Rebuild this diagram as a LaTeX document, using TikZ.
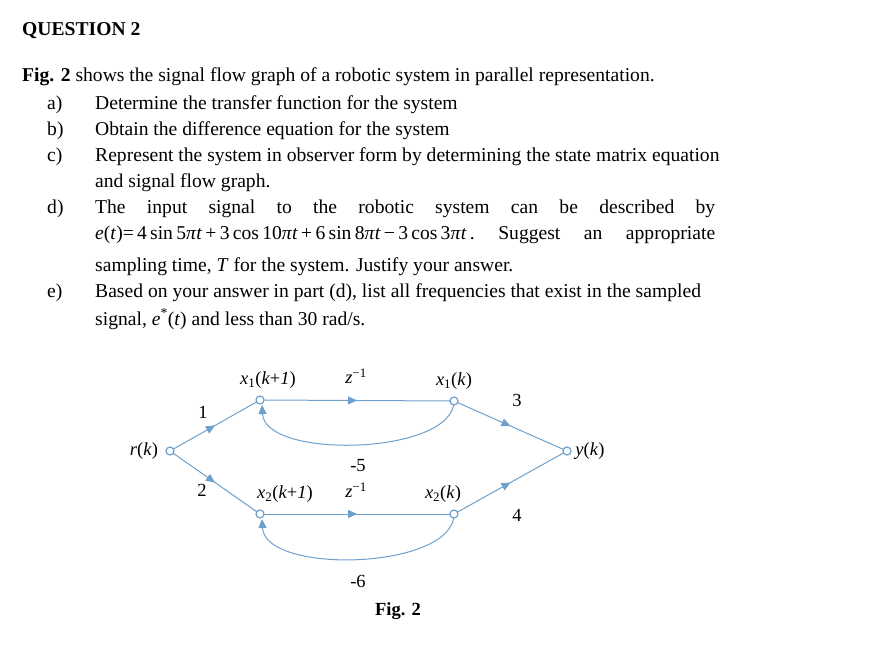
\documentclass[tikz,border=0pt]{standalone}
\usepackage{fontspec}
\setmainfont{Liberation Serif}
\usetikzlibrary{decorations.markings,arrows.meta}
\definecolor{edge}{RGB}{110,160,205}
\newcommand{\ii}[1]{\textit{#1}}
\newcommand{\pii}{\textit{π}}
\begin{document}
\begin{tikzpicture}[x=1pt,y=-1pt,
  txt/.style={anchor=base west,inner sep=0,font=\fontsize{19.6}{22}\selectfont},
  lbl/.style={inner sep=0,font=\fontsize{18.5}{20}\selectfont},
  sn/.style={circle,draw=edge,line width=1.2pt,minimum size=8pt,inner sep=0,fill=white},
  br/.style={draw=edge,line width=1pt,postaction={decorate},
    decoration={markings,mark=at position #1 with {\arrow{Triangle[length=9pt,width=8pt]}}}},
  br/.default=0.5]
\useasboundingbox (0,0) rectangle (884,650);
\node[txt,font=\fontsize{19.6}{22}\selectfont\bfseries] (q) at (22,36) {QUESTION 2};
\node[txt] (l0) at (22,82) {\textbf{Fig. 2} shows the signal flow graph of a robotic system in parallel representation.};
\node[txt] (ma) at (47,110) {a)};
\node[txt] (ta) at (95,110) {Determine the transfer function for the system};
\node[txt] (mb) at (47,136) {b)};
\node[txt] (tb) at (95,136) {Obtain the difference equation for the system};
\node[txt] (mc) at (47,162) {c)};
\node[txt] (tc) at (95,162) {Represent the system in observer form by determining the state matrix equation};
\node[txt] (tc2) at (95,188) {and signal flow graph.};
\node[txt] (md) at (47,214) {d)};
\node[txt] (td) at (95,214) {\makebox[620pt][s]{The input signal to the robotic system can be described by}};
\node[txt] (td2) at (95,240) {\makebox[620pt][s]{\mbox{\ii{e}(\ii{t})=\,4\,sin\,5\pii\ii{t}\,+\,3\,cos\,10\pii\ii{t}\,+\,6\,sin\,8\pii\ii{t}\,−\,3\,cos\,3\pii\ii{t}\,.} Suggest an appropriate}};
\node[txt] (td3) at (95,271) {sampling time, \ii{T} for the system. Justify your answer.};
\node[txt] (me) at (47,297) {e)};
\node[txt] (te) at (95,297) {Based on your answer in part (d), list all frequencies that exist in the sampled};
\node[txt] (te2) at (95,325) {signal, \ii{e}\textsuperscript{*}(\ii{t}) and less than 30 rad/s.};

\coordinate (r) at (170,451);
\coordinate (a) at (260,400);
\coordinate (b) at (454,401);
\coordinate (y) at (567,451);
\coordinate (c) at (260,514);
\coordinate (d) at (454,514);
\draw[br=0.5] (r) -- (a);
\draw[br=0.5] (r) -- (c);
\draw[br=0.5] (a) -- (b);
\draw[br=0.5] (c) -- (d);
\draw[br=0.5] (b) -- (y);
\draw[br=0.5] (d) -- (y);
\draw[draw=edge,line width=1pt,-{Triangle[length=9pt,width=8pt]}] (b) .. controls (454,455) and (265,460) .. (262,405);
\draw[draw=edge,line width=1pt,-{Triangle[length=9pt,width=8pt]}] (d) .. controls (454,570) and (265,575) .. (262,519);
\foreach \p in {r,a,b,y,c,d} \node[sn] (n\p) at (\p) {};

\node[lbl] (L1) at (203,412) {1};
\node[lbl] (L2) at (202,490) {2};
\node[lbl] (L3) at (517,400) {3};
\node[lbl] (L4) at (517,515) {4};
\node[lbl] (L5) at (358,466) {-5};
\node[lbl] (L6) at (358,581) {-6};
\node[lbl] (z1) at (356,376) {\ii{z}\textsuperscript{−1}};
\node[lbl] (z2) at (356,490) {\ii{z}\textsuperscript{−1}};
\node[lbl] (x1a) at (268,380) {\ii{x}\textsubscript{1}(\ii{k}+\ii{1})};
\node[lbl] (x1b) at (454,381) {\ii{x}\textsubscript{1}(\ii{k})};
\node[lbl] (x2a) at (285,494) {\ii{x}\textsubscript{2}(\ii{k}+\ii{1})};
\node[lbl] (x2b) at (443,494) {\ii{x}\textsubscript{2}(\ii{k})};
\node[lbl] (rl) at (144,451) {\ii{r}(\ii{k})};
\node[lbl] (yl) at (590,451) {\ii{y}(\ii{k})};
\node[lbl,font=\fontsize{18.5}{20}\selectfont\bfseries] (fig) at (398,611) {Fig. 2};
\end{tikzpicture}
\end{document}
